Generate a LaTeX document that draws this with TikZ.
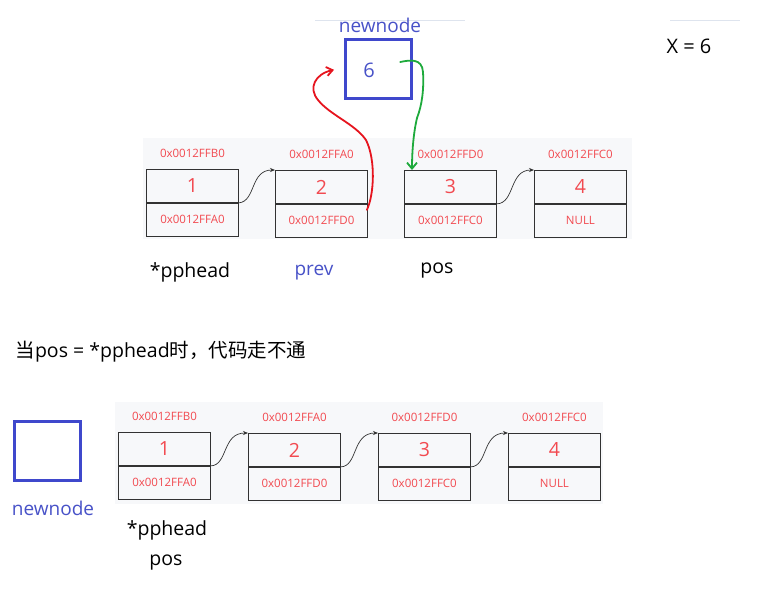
\documentclass[tikz,border=0pt]{standalone}
\usepackage{fontspec}
\setmainfont{Open Sans}
\newfontfamily\cjk{Noto Sans CJK SC}
\usetikzlibrary{arrows.meta,calc}
\definecolor{addrred}{RGB}{242,74,80}
\definecolor{nodeblue}{RGB}{63,72,204}
\definecolor{labblue}{RGB}{72,82,200}
\definecolor{panel}{RGB}{247,248,250}
\definecolor{boxline}{RGB}{50,50,50}
\definecolor{penred}{RGB}{230,20,30}
\definecolor{pengreen}{RGB}{30,170,60}
\definecolor{faint}{RGB}{222,228,238}
\tikzset{
  part/.style={draw=boxline, line width=0.9pt, minimum width=92pt, minimum height=33pt, inner sep=0pt, anchor=north west},
  valtext/.style={text=addrred, font=\fontsize{19.5}{22}\selectfont},
  addrtext/.style={text=addrred, font=\fontsize{11.5}{13}\selectfont},
  link/.style={draw=boxline, line width=0.7pt, -{Stealth[length=5pt,width=4pt]}},
  label/.style={font=\fontsize{19.5}{22}\selectfont, text=black},
  bluelabel/.style={font=\fontsize{19}{22}\selectfont, text=labblue},
  newbox/.style={draw=nodeblue, line width=2.6pt, minimum width=66pt, minimum height=59pt, inner sep=0pt, anchor=north west},
  pen/.style={line width=1.8pt, line cap=round, line join=round},
}
\newcommand{\elem}[6]{%
  % name, x, y (top), value, addr below, addr above
  \node[part, valtext] (#1t) at (#2,#3) {#4};
  \node[part, addrtext] (#1b) at (#1t.south west) {#5};
  \node[addrtext] (#1a) at ($(#1t.north)+(0,-16)$) {#6};
}
\begin{document}
\begin{tikzpicture}[x=1pt,y=-1pt]
\useasboundingbox[fill=white] (0,0) rectangle (774,606);
% faint screenshot lines
\draw[faint, line width=0.8pt] (315,20) -- (465,20);
\draw[faint, line width=0.8pt] (670,20) -- (740,20);
% ---------- top row ----------
\fill[panel] (143,138) rectangle (632,239);
\elem{a1}{146}{169}{1}{0x0012FFA0}{0x0012FFB0}
\elem{a2}{275}{170}{2}{0x0012FFD0}{0x0012FFA0}
\elem{a3}{404}{170}{3}{0x0012FFC0}{0x0012FFD0}
\elem{a4}{534}{170}{4}{NULL}{0x0012FFC0}
\draw[link] (a1b.north east) .. controls (256,201) and (250,170) .. (a2t.north west);
\draw[link] (a3b.north east) .. controls (515,203) and (509,170) .. (a4t.north west);
\node[label] (lhead) at (190,272) {*pphead};
\node[bluelabel] (lprev) at (314,273) {prev};
\node[label] (lpos) at (437,271) {pos};
% new node top
\node[newbox] (nn) at (344,38) {};
\node[text=labblue, font=\fontsize{20}{22}\selectfont] (nnv) at (369,70) {6};
\node[bluelabel] (nnl) at (380,25) {newnode};
\node[label, font=\fontsize{20}{22}\selectfont] (xeq) at (689,46) {X = 6};
% red pen stroke
\coordinate (r0) at ($(a2b.north east)+(-1,6)$);
\coordinate (r9) at ($(nn.west)+(-10,1)$);
\draw[pen, penred, -{Straight Barb[length=6pt,width=9pt]}] (r0) .. controls (374,195) and (376,160) .. (366,140)
  .. controls (355,124) and (330,115) .. (318,100)
  .. controls (308,88) and (315,74) .. (r9);
% green pen stroke
\coordinate (g0) at ($(nnv.east)+(22,-8)$);
\draw[pen, pengreen, -{Straight Barb[length=6pt,width=10pt]}] (g0) .. controls (410,60) and (422,58) .. (423,72)
  .. controls (424,90) and (422,105) .. (417,118)
  .. controls (413,135) and (412,155) .. (a3t.north west -| 412,172);
% ---------- text line ----------
\node[label, anchor=west] (note) at (12,352) {{\cjk 当}pos = *pphead{\cjk 时，代码走不通}};
% ---------- bottom row ----------
\fill[panel] (115,402) rectangle (603,504);
\elem{b1}{118}{432}{1}{0x0012FFA0}{0x0012FFB0}
\elem{b2}{248}{433}{2}{0x0012FFD0}{0x0012FFA0}
\elem{b3}{378}{433}{3}{0x0012FFC0}{0x0012FFD0}
\elem{b4}{508}{433}{4}{NULL}{0x0012FFC0}
\draw[link] (b1b.north east) .. controls (228,465) and (222,433) .. (b2t.north west);
\draw[link] (b2b.north east) .. controls (358,466) and (352,433) .. (b3t.north west);
\draw[link] (b3b.north east) .. controls (488,466) and (482,433) .. (b4t.north west);
\node[newbox] (nn2) at (13,420) {};
\node[bluelabel] (nn2l) at (53,508) {newnode};
\node[label] (lhead2) at (167,530) {*pphead};
\node[label] (lpos2) at (166,563) {pos};
\end{tikzpicture}
\end{document}
